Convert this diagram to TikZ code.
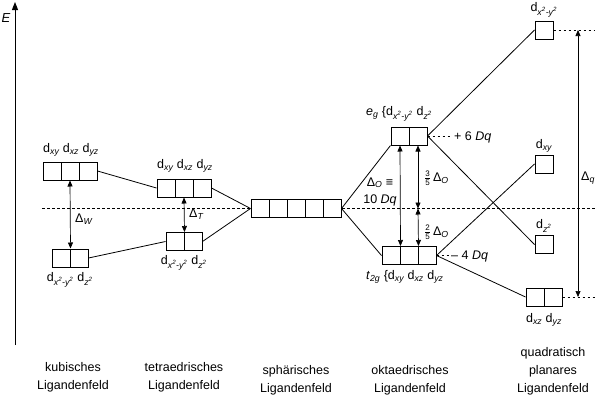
\documentclass[tikz,border=0pt]{standalone}
\usepackage{fontspec}
\setmainfont{Liberation Sans}
\usetikzlibrary{arrows.meta}
\newcommand{\orb}[1]{d\textsubscript{\itshape #1}}
\newcommand{\sq}{\textsuperscript{2}}
\newcommand{\fr}[2]{$\frac{\mbox{\footnotesize #1}}{\mbox{\footnotesize #2}}$}
\tikzstyle{cell}=[draw,fill=white,line width=1pt,minimum size=18pt,inner sep=0pt]
\tikzstyle{tie}=[draw,line width=0.8pt,-]
\tikzstyle{gap}=[draw,line width=0.7pt,{Triangle[length=6pt,width=5pt]}-{Triangle[length=6pt,width=5pt]}]
\tikzstyle{ref}=[draw,line width=0.8pt,dash pattern=on 2.5pt off 2.5pt]
\tikzstyle{lbl}=[inner sep=0pt,font=\fontsize{12.5}{18}\selectfont]
\tikzstyle{field}=[lbl,align=center]

\begin{document}
\begin{tikzpicture}[x=1pt,y=-1pt]
    \useasboundingbox (0,0) rectangle (595,402);
    % Energy axis and reference level
    \coordinate (Ebot) at (15,345);
    \coordinate (Etop) at (15,2);
    \draw[line width=1pt,-{Triangle[length=8pt,width=6pt]}] (Ebot) -- (Etop);
    \node[lbl,font=\fontsize{13}{13}\selectfont\itshape] (E) at (6,18) {E};
    \coordinate (dl) at (42,208.5);
    \coordinate (dr) at (595,208.5);
    \path[ref] (dl) -- (dr);

    % First we draw the orbital boxes
    \foreach \pos/\name in {{(52,171)/cT1}, {(70,171)/cT2}, {(88,171)/cT3}, {(61,258)/cB1}, {(79,258)/cB2},
        {(166,188)/tT1}, {(184,188)/tT2}, {(202,188)/tT3}, {(175,241.5)/tB1}, {(193,241.5)/tB2},
        {(260,208.5)/s1}, {(278,208.5)/s2}, {(296,208.5)/s3}, {(314,208.5)/s4}, {(332,208.5)/s5},
        {(400,136)/eg1}, {(418,136)/eg2}, {(391,255.5)/t1}, {(409,255.5)/t2}, {(427,255.5)/t3},
        {(544,30)/qA}, {(544,164)/qB}, {(544,244.5)/qC}, {(535,297)/qD1}, {(553,297)/qD2}}
        \node[cell] (\name) at \pos {};

    % Connect the levels
    \foreach \source/\dest in {cT3.east/tT1.west, cB2.east/tB1.west, tT3.east/s1.west, tB2.east/s1.west,
        s5.east/eg1.south west, s5.east/t1.west, eg2.east/qA.west, eg2.east/qC.west, t3.east/qB.west, t3.east/qD1.west}
        \path[tie] (\source) -- (\dest);

    % Splittings
    \coordinate (mid) at (418,208.5);
    \coordinate (egR) at (452,136);
    \coordinate (t2R) at (450,255.5);
    \coordinate (qtop) at (578,30);
    \coordinate (qbot) at (578,297);
    \coordinate (qtopR) at (595,30);
    \coordinate (qbotR) at (595,297);
    \path[ref] (eg2.east) -- (egR);
    \path[ref] (t3.east) -- (t2R);
    \path[ref] (qA.east) -- (qtopR);
    \path[ref] (qD2.east) -- (qbotR);
    \path[gap] (cT2.south) -- (cB1.north east);
    \path[gap] (tT2.south) -- (tB1.north east);
    \path[gap] (eg1.south) -- (t1.north east);
    \path[gap] (eg2.south) -- (mid);
    \path[gap] (mid) -- (t2.north east);
    \path[gap] (qtop) -- (qbot);

    % Labels
    \node[lbl] (cTl) at (71,150) {\orb{xy} \orb{xz} \orb{yz}};
    \node[lbl] (cBl) at (70,280) {\orb{x\sq-y\sq} \orb{z\sq}};
    \node[lbl] (tTl) at (185,166) {\orb{xy} \orb{xz} \orb{yz}};
    \node[lbl] (tBl) at (184,263) {\orb{x\sq-y\sq} \orb{z\sq}};
    \node[lbl,anchor=west] (dW) at (75,219) {Δ\textsubscript{\itshape W}};
    \node[lbl,anchor=west] (dT) at (189,214) {Δ\textsubscript{\itshape T}};
    \node[lbl,anchor=west] (egl) at (366,114) {\textit{e}\textsubscript{\itshape g} \{\orb{x\sq-y\sq} \orb{z\sq}};
    \node[lbl,anchor=west] (t2l) at (366,277) {\textit{t}\textsubscript{\itshape 2g} \{\orb{xy} \orb{xz} \orb{yz}};
    \node[field,font=\fontsize{12.5}{17}\selectfont] (dO) at (380,191.5) {Δ\textsubscript{\itshape O} ≡\\10 \textit{Dq}};
    \node[lbl,anchor=west] (d35) at (424,178) {\fr{3}{5}\,Δ\textsubscript{\itshape O}};
    \node[lbl,anchor=west] (d25) at (424,232) {\fr{2}{5}\,Δ\textsubscript{\itshape O}};
    \node[lbl,anchor=west] (p6) at (454,137) {+ 6 \textit{Dq}};
    \node[lbl,anchor=west] (m4) at (451,256) {– 4 \textit{Dq}};
    \node[lbl] (qAl) at (544,10) {\orb{x\sq-y\sq}};
    \node[lbl] (qBl) at (544,146) {\orb{xy}};
    \node[lbl] (qCl) at (544,226) {\orb{z\sq}};
    \node[lbl] (qDl) at (544,320) {\orb{xz} \orb{yz}};
    \node[lbl,anchor=west] (dq) at (581,178) {Δ\textsubscript{\itshape q}};

    % Field names
    \node[field] (kub) at (73,377) {kubisches\\Ligandenfeld};
    \node[field] (tet) at (184,377) {tetraedrisches\\Ligandenfeld};
    \node[field] (sph) at (296,380) {sphärisches\\Ligandenfeld};
    \node[field] (okt) at (410,380) {oktaedrisches\\Ligandenfeld};
    \node[field] (qua) at (553,371) {quadratisch\\planares\\Ligandenfeld};
\end{tikzpicture}
\end{document}
